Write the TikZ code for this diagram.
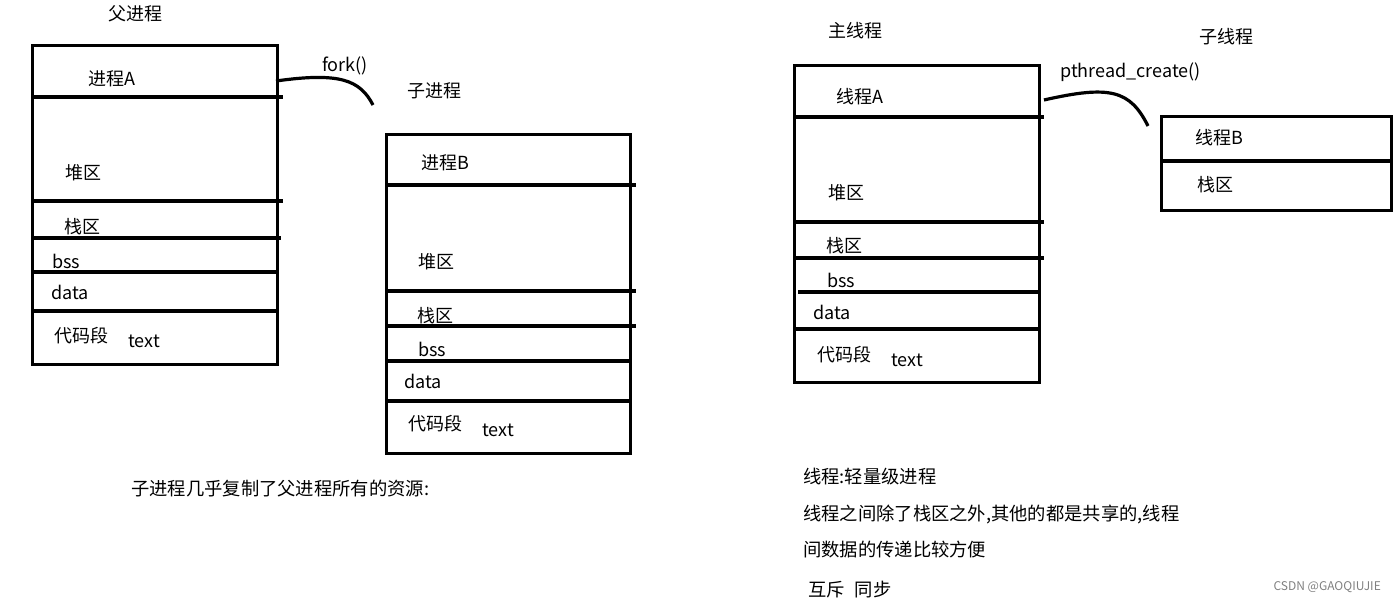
\documentclass[tikz,border=0pt]{standalone}
\usepackage{fontspec}
\setmainfont{Noto Sans CJK SC}
\begin{document}
\begin{tikzpicture}[x=1pt,y=-1pt,
  box/.style={draw,line width=3.2pt},
  ln/.style={line width=3.2pt},
  t/.style={anchor=west,inner sep=0pt,font=\fontsize{18}{20}\selectfont},
  n/.style={anchor=west,inner sep=0pt,font=\fontsize{18.3}{21}\selectfont}]
\useasboundingbox (0,0) rectangle (1395,604);
% left box
\node[box,minimum width=245pt,minimum height=319pt,anchor=north west,inner sep=0pt] (P) at (31,44) {};
\draw[ln] (31,97) -- (283,97) (31,201) -- (283,201) (31,238) -- (281,238) (31,272) -- (276,272) (31,311) -- (276,311);
\node[t] (pa) at (88,79) {进程A};
\node[t] (ph) at (65,173) {堆区};
\node[t] (ps) at (64,227) {栈区};
\node[t] (pb) at (52,261) {bss};
\node[t] (pd) at (51,292) {data};
\node[t] (pc) at (54,336) {代码段};
\node[t] (pt) at (128,341) {text};
\node[t] (pl) at (108,14) {父进程};
\node[t] (fk) at (322,66) {fork()};
% middle box
\node[box,minimum width=244pt,minimum height=319pt,anchor=north west,inner sep=0pt] (C) at (385,133) {};
\draw[ln] (385,185) -- (636,185) (385,291) -- (636,291) (385,326) -- (636,326) (385,361) -- (629,361) (385,401) -- (629,401);
\node[t] (cb) at (421,163) {进程B};
\node[t] (ch) at (418,262) {堆区};
\node[t] (cs) at (417,316) {栈区};
\node[t] (cbs) at (418,349) {bss};
\node[t] (cd) at (404,381) {data};
\node[t] (cc) at (408,424) {代码段};
\node[t] (ct) at (482,430) {text};
\node[t] (cl) at (407,91) {子进程};
\coordinate (f1) at (276,81);
\coordinate (f2) at (373,105);
\draw[ln] (f1) .. controls (340,72) and (360,80) .. (f2);
% right box
\node[box,minimum width=245pt,minimum height=317pt,anchor=north west,inner sep=0pt] (M) at (793,64) {};
\draw[ln] (793,117) -- (1044,117) (793,222) -- (1044,222) (793,258) -- (1044,258) (798,292) -- (1038,292) (793,329) -- (1038,329);
\node[t] (ma) at (836,97) {线程A};
\node[t] (mh) at (828,193) {堆区};
\node[t] (ms) at (826,246) {栈区};
\node[t] (mb) at (827,280) {bss};
\node[t] (md) at (813,312) {data};
\node[t] (mc) at (817,355) {代码段};
\node[t] (mt) at (891,360) {text};
\node[t] (ml) at (828,31) {主线程};
\node[t] (pc2) at (1060,72) {pthread\_create()};
\node[t] (sl) at (1199,37) {子线程};
\coordinate (g1) at (1044,100);
\coordinate (g2) at (1148,126);
\draw[ln] (g1) .. controls (1110,85) and (1130,90) .. (g2);
% small box
\node[box,minimum width=230pt,minimum height=94pt,anchor=north west,inner sep=0pt] (S) at (1160,115) {};
\draw[ln] (1160,161) -- (1390,161);
\node[t] (sb) at (1195,138) {线程B};
\node[t] (ss) at (1197,185) {栈区};
% notes
\node[n] (n1) at (131,489) {子进程几乎复制了父进程所有的资源:};
\node[n] (n2) at (803,477) {线程:轻量级进程};
\node[n] (n3) at (803,514) {线程之间除了栈区之外,其他的都是共享的,线程};
\node[n] (n4) at (803,550) {间数据的传递比较方便};
\node[n] (n5) at (808,590) {互斥\hspace{10pt}同步};
\node[anchor=east,inner sep=0pt,text=gray,font=\fontsize{12}{14}\selectfont] (wm) at (1381,587) {CSDN @GAOQIUJIE};
\end{tikzpicture}
\end{document}
